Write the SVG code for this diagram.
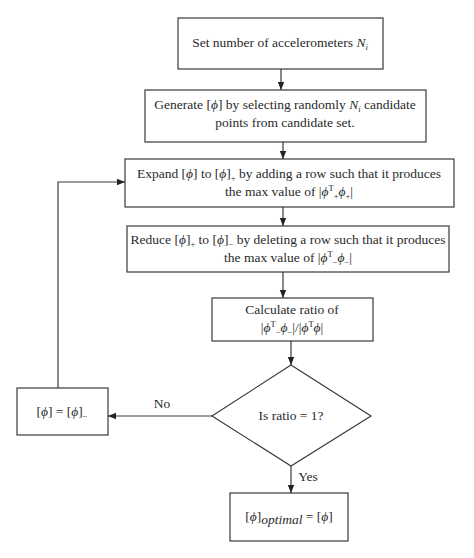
<svg xmlns="http://www.w3.org/2000/svg" width="474" height="558" viewBox="0 0 474 558" font-family="'Liberation Serif', 'DejaVu Serif', serif">
<style>
.box{fill:#fff;stroke:#3a3a3a;stroke-width:1.2}
.ln{fill:none;stroke:#3a3a3a;stroke-width:1.2}
text{font-family:"Liberation Serif","DejaVu Serif",serif;font-size:13.5px;fill:#2a2a2a;text-anchor:middle}
.i{font-style:italic}
.s{font-size:8.5px}
</style>
<defs>
<marker id="ah" markerUnits="userSpaceOnUse" markerWidth="8" markerHeight="8" viewBox="0 0 8 8" refX="8" refY="4" orient="auto">
<path d="M0,0.8 L8,4 L0,7.2 Z" fill="#222"/>
</marker>
</defs>
<rect width="474" height="558" fill="#fff"/>
<g id="connectors">
<line class="ln" x1="281" y1="69" x2="281" y2="90" marker-end="url(#ah)"/>
<line class="ln" x1="283" y1="142" x2="283" y2="159" marker-end="url(#ah)"/>
<line class="ln" x1="283" y1="207" x2="283" y2="226" marker-end="url(#ah)"/>
<line class="ln" x1="283" y1="272" x2="283" y2="298" marker-end="url(#ah)"/>
<line class="ln" x1="291" y1="341" x2="291" y2="365" marker-end="url(#ah)"/>
<line class="ln" x1="291" y1="466" x2="291" y2="493" marker-end="url(#ah)"/>
<line class="ln" x1="212" y1="416" x2="108" y2="416" marker-end="url(#ah)"/>
<polyline class="ln" points="58,388 58,182 125,182" marker-end="url(#ah)"/>
<text x="162" y="408">No</text>
<text x="308" y="481">Yes</text>
</g>
<g id="n1">
<rect class="box" x="178" y="18" width="205" height="51"/>
<text x="280" y="47">Set number of accelerometers <tspan class="i">N</tspan><tspan class="i s" dy="3">i</tspan></text>
</g>
<g id="n2">
<rect class="box" x="145" y="90" width="281" height="52"/>
<text x="285" y="109">Generate [<tspan class="i">ϕ</tspan>] by selecting randomly <tspan class="i">N</tspan><tspan class="i s" dy="3">i</tspan><tspan dy="-3"> candidate</tspan></text>
<text x="285" y="127">points from candidate set.</text>
</g>
<g id="n3">
<rect class="box" x="125" y="159" width="329" height="48"/>
<text x="289" y="178">Expand [<tspan class="i">ϕ</tspan>] to [<tspan class="i">ϕ</tspan>]<tspan class="s" dy="3">+</tspan><tspan dy="-3"> by adding a row such that it produces</tspan></text>
<text x="289" y="196">the max value of |<tspan class="i">ϕ</tspan><tspan class="s" dy="-5">T</tspan><tspan class="s" dy="8">+</tspan><tspan class="i" dy="-3">ϕ</tspan><tspan class="s" dy="3">+</tspan><tspan dy="-3">|</tspan></text>
</g>
<g id="n4">
<rect class="box" x="127" y="226" width="322" height="46"/>
<text x="288" y="244">Reduce [<tspan class="i">ϕ</tspan>]<tspan class="s" dy="3">+</tspan><tspan dy="-3"> to [</tspan><tspan class="i">ϕ</tspan>]<tspan class="s" dy="3">−</tspan><tspan dy="-3"> by deleting a row such that it produces</tspan></text>
<text x="288" y="262">the max value of |<tspan class="i">ϕ</tspan><tspan class="s" dy="-5">T</tspan><tspan class="s" dy="8">−</tspan><tspan class="i" dy="-3">ϕ</tspan><tspan class="s" dy="3">−</tspan><tspan dy="-3">|</tspan></text>
</g>
<g id="n5">
<rect class="box" x="212" y="298" width="161" height="43"/>
<text x="292" y="314">Calculate ratio of</text>
<text x="292" y="332">|<tspan class="i">ϕ</tspan><tspan class="s" dy="-5">T</tspan><tspan class="s" dy="8">−</tspan><tspan class="i" dy="-3">ϕ</tspan><tspan class="s" dy="3">−</tspan><tspan dy="-3">|/|</tspan><tspan class="i">ϕ</tspan><tspan class="s" dy="-5">T</tspan><tspan class="i" dy="5">ϕ</tspan>|</text>
</g>
<g id="n6">
<polygon class="box" points="291,365 371,416 291,466 212,416"/>
<text x="291" y="420">Is ratio = 1?</text>
</g>
<g id="n7">
<rect class="box" x="17" y="388" width="91" height="47"/>
<text x="62" y="416">[<tspan class="i">ϕ</tspan>] = [<tspan class="i">ϕ</tspan>]<tspan class="s" dy="3">−</tspan></text>
</g>
<g id="n8">
<rect class="box" x="230" y="493" width="118" height="48"/>
<text x="289" y="521">[<tspan class="i">ϕ</tspan>]<tspan class="i" dy="3">optimal</tspan><tspan dy="-3"> = [</tspan><tspan class="i">ϕ</tspan>]</text>
</g>
</svg>
